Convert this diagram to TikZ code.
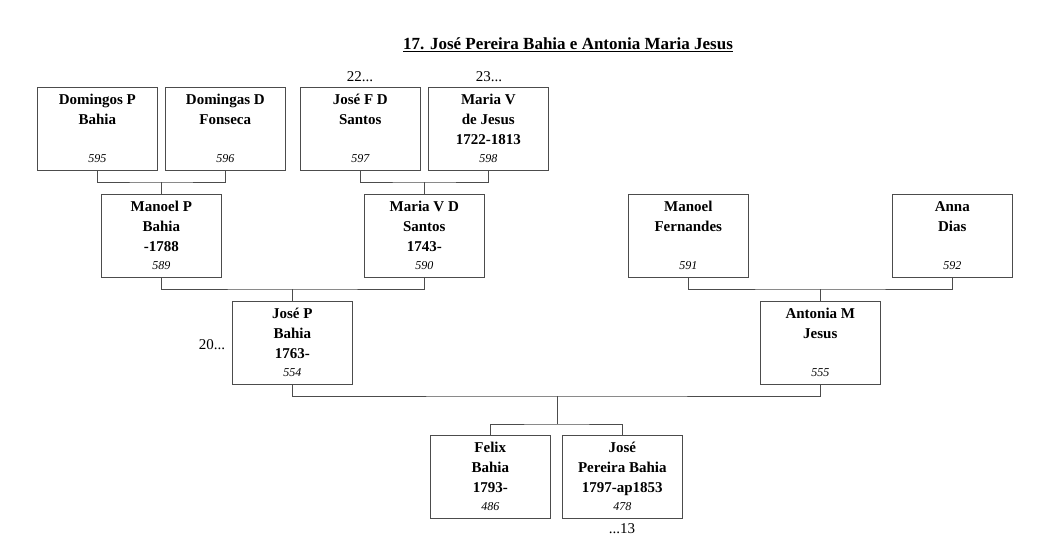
\documentclass[tikz,border=0pt]{standalone}
\usepackage{fontspec}
\setmainfont{Liberation Serif}
\begin{document}
\begin{tikzpicture}[x=1pt,y=-1pt,
  pbox/.style={draw=black!70,line width=0.6pt,minimum width=120pt,minimum height=83pt,anchor=north west,inner sep=0pt},
  nm/.style={font=\fontsize{15}{20}\selectfont\bfseries,align=center,anchor=north},
  nr/.style={font=\fontsize{12}{14}\selectfont\itshape,anchor=base},
  ln/.style={draw=black!70,line width=0.6pt}]
\useasboundingbox (0,0) rectangle (1061,555);
\node[font=\fontsize{17}{20}\selectfont\bfseries] (title) at (568,45) {\underline{17. José Pereira Bahia e Antonia Maria Jesus}};
\newcommand\pb[5]{%
  \node[pbox] (#1) at (#2,#3) {};
  \node[nm] (#1n) at ([yshift=-4pt]#1.north) {#4};
  \node[nr] (#1r) at ([yshift=8pt]#1.south) {#5};}
\pb{a}{37}{87}{Domingos P\\Bahia}{595}
\pb{b}{165}{87}{Domingas D\\Fonseca}{596}
\pb{c}{300}{87}{José F D\\Santos}{597}
\pb{d}{428}{87}{Maria V\\de Jesus\\1722-1813}{598}
\pb{e}{101}{194}{Manoel P\\Bahia\\-1788}{589}
\pb{f}{364}{194}{Maria V D\\Santos\\1743-}{590}
\pb{g}{628}{194}{Manoel\\Fernandes}{591}
\pb{h}{892}{194}{Anna\\Dias}{592}
\pb{i}{232}{301}{José P\\Bahia\\1763-}{554}
\pb{j}{760}{301}{Antonia M\\Jesus}{555}
\pb{k}{430}{435}{Felix\\Bahia\\1793-}{486}
\pb{l}{562}{435}{José\\Pereira Bahia\\1797-ap1853}{478}
\node[font=\fontsize{15}{18}\selectfont] (x22) at (360,77) {22...};
\node[font=\fontsize{15}{18}\selectfont] (x23) at (489,77) {23...};
\node[font=\fontsize{15}{18}\selectfont] (x20) at (212,345) {20...};
\node[font=\fontsize{15}{18}\selectfont] (x13) at (622,529) {...13};
\draw[ln] (a.south) |- (e.north|-0,182) -| (b.south); \draw[ln] (e.north) -- (e.north|-0,182);
\draw[ln] (c.south) |- (f.north|-0,182) -| (d.south); \draw[ln] (f.north) -- (f.north|-0,182);
\draw[ln] (e.south) |- (i.north|-0,289) -| (f.south); \draw[ln] (i.north) -- (i.north|-0,289);
\draw[ln] (g.south) |- (j.north|-0,289) -| (h.south); \draw[ln] (j.north) -- (j.north|-0,289);
\coordinate (m) at (557,396);
\coordinate (m2) at (557,424);
\draw[ln] (i.south) |- (m) -| (j.south);
\draw[ln] (m) -- (m2);
\draw[ln] (k.north) |- (m2) -| (l.north);
\end{tikzpicture}
\end{document}
